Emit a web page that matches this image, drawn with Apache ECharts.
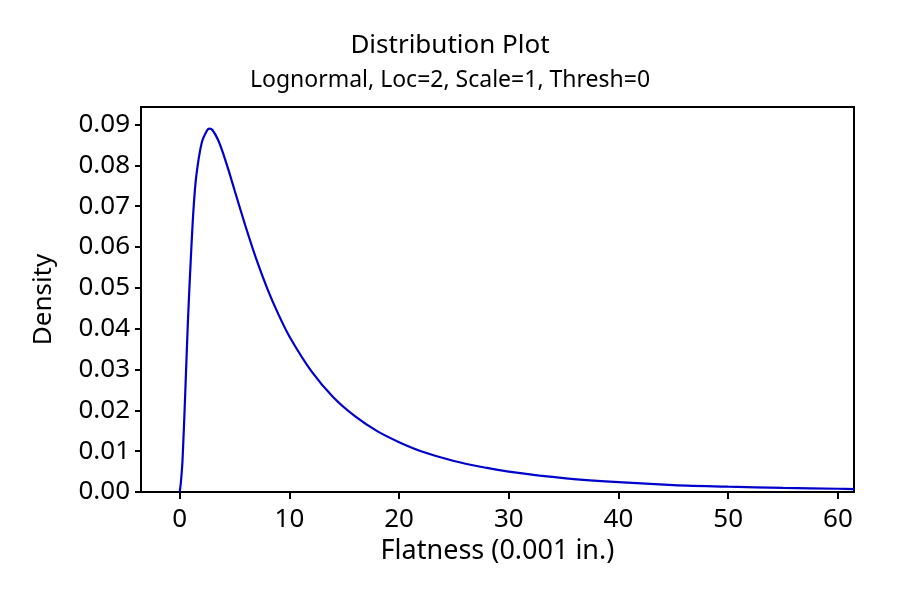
<!DOCTYPE html>
<html>
<head>
<meta charset="utf-8">
<script src="https://cdn.jsdelivr.net/npm/echarts@6/dist/echarts.min.js"></script>
<style>
html,body{margin:0;padding:0;background:#fff;}
#chart{width:900px;height:599px;}
</style>
</head>
<body>
<div id="chart"></div>
<script>
// Flatness (0.001 in.) values and density
var flatness = [0, 0.1, 0.25, 0.5, 0.75, 1, 1.25, 1.5, 2, 2.5, 2.72, 3, 3.5, 4, 4.5, 5, 6, 7, 8, 9, 10, 12, 14, 16, 18, 20, 22, 25, 28, 30, 35, 40, 45, 50, 55, 60, 61.5];
var density  = [0, 0.0022, 0.0075, 0.0240, 0.0420, 0.0565, 0.0690, 0.0772, 0.0855, 0.0886, 0.0890, 0.0886, 0.0862, 0.0826, 0.0784, 0.0739, 0.0651, 0.0569, 0.0497, 0.0435, 0.0381, 0.0296, 0.0232, 0.0185, 0.0149, 0.0122, 0.0100, 0.0076, 0.0059, 0.0050, 0.0034, 0.0024, 0.0017, 0.0013, 0.0010, 0.0008, 0.0007];
var xTicks = [0, 10, 20, 30, 40, 50, 60];
var yTicks = [0, 0.01, 0.02, 0.03, 0.04, 0.05, 0.06, 0.07, 0.08, 0.09];

var points = flatness.map(function (x, i) { return [x, density[i]]; });
var FONT = '"Noto Sans", sans-serif';

var chart = echarts.init(document.getElementById('chart'));
chart.setOption({
  animation: false,
  backgroundColor: '#fff',
  title: {
    text: 'Distribution Plot',
    subtext: 'Lognormal, Loc=2, Scale=1, Thresh=0',
    left: 'center',
    top: 28,
    itemGap: 10,
    textStyle: { fontFamily: FONT, fontSize: 26, fontWeight: 'normal', color: '#000' },
    subtextStyle: { fontFamily: FONT, fontSize: 23, color: '#000' }
  },
  grid: {
    left: 141, right: 46, top: 107, bottom: 107,
    show: true, borderColor: '#000', borderWidth: 2, backgroundColor: '#fff'
  },
  xAxis: {
    type: 'value',
    min: -3.53, max: 61.47,
    name: 'Flatness (0.001 in.)',
    nameLocation: 'middle',
    nameGap: 40,
    nameTextStyle: { fontFamily: FONT, fontSize: 27, color: '#000' },
    axisLine: { show: true, onZero: false, lineStyle: { color: '#000', width: 2 } },
    axisTick: { show: true, length: 7, customValues: xTicks, lineStyle: { color: '#000', width: 2 } },
    axisLabel: { customValues: xTicks, margin: 15, fontFamily: FONT, fontSize: 26, color: '#000' },
    splitLine: { show: false }
  },
  yAxis: {
    type: 'value',
    min: 0, max: 0.0943,
    name: 'Density',
    nameLocation: 'middle',
    nameGap: 84,
    nameTextStyle: { fontFamily: FONT, fontSize: 26, color: '#000' },
    axisLine: { show: true, onZero: false, lineStyle: { color: '#000', width: 2 } },
    axisTick: { show: true, length: 6, customValues: yTicks, lineStyle: { color: '#000', width: 2 } },
    axisLabel: {
      customValues: yTicks, margin: 11, fontFamily: FONT, fontSize: 26, color: '#000',
      formatter: function (v) { return v.toFixed(2); }
    },
    splitLine: { show: false }
  },
  series: [{
    type: 'line',
    data: points,
    smooth: 0.3,
    showSymbol: false,
    lineStyle: { color: '#0000CC', width: 2.2 },
    clip: true
  }]
});
</script>
</body>
</html>
